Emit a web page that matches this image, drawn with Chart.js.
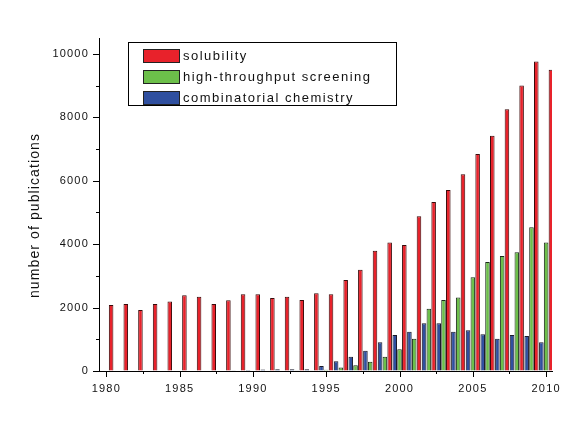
<!DOCTYPE html>
<html>
<head>
<meta charset="utf-8">
<script src="https://cdn.jsdelivr.net/npm/chart.js@4"></script>
<style>
html,body{margin:0;padding:0;background:#fff;}
#wrap{width:586px;height:425px;position:relative;}
</style>
</head>
<body>
<div id="wrap"><canvas id="c" width="586" height="425"></canvas></div>
<script>
const years = [1980,1981,1982,1983,1984,1985,1986,1987,1988,1989,1990,1991,1992,1993,1994,1995,1996,1997,1998,1999,2000,2001,2002,2003,2004,2005,2006,2007,2008,2009,2010];
const solubility = [2080,2110,1925,2110,2190,2390,2345,2110,2230,2420,2420,2300,2345,2240,2450,2420,2870,3190,3790,4050,3975,4880,5330,5710,6205,6845,7415,8255,9000,9760,9500];
const hts = [0,0,0,0,0,0,0,0,0,0,0,0,0,10,20,40,110,185,295,450,685,1020,1965,2240,2315,2955,3440,3630,3745,4535,4050];
const combchem = [0,0,0,0,0,0,0,0,0,10,30,50,55,55,55,160,305,450,640,905,1135,1240,1505,1505,1240,1285,1160,1020,1135,1105,905];
const seriesLabels = ['solubility','high-throughput screening','combinatorial chemistry'];
const yTicks = [0,2000,4000,6000,8000,10000];
const yMinorTicks = [1000,3000,5000,7000,9000];
const xTickLabels = [1980,1985,1990,1995,2000,2005,2010];
const yTitle = 'number of publications';

const COLORS = {sol:'#e8222b', hts:'#6cbf4a', comb:'#2f4f9f'};
const toXY = arr => arr.map((v,i)=>({x:years[i], y:v}));
const FONT = '"Liberation Sans", Arial, sans-serif';

const tickPlugin = {
  id:'ticks',
  beforeDraw(chart){ chart.ctx.letterSpacing = '1.2px'; },
  afterDraw(chart){
    const ctx = chart.ctx, ca = chart.chartArea;
    const xs = chart.scales.x, ys = chart.scales.y;
    ctx.save();
    ctx.strokeStyle = '#000'; ctx.lineWidth = 1;
    ctx.beginPath();
    xs.ticks.forEach(t=>{
      const px = Math.round(xs.getPixelForValue(t.value))+0.5;
      const len = xTickLabels.includes(t.value) ? 6 : 3;
      ctx.moveTo(px, ca.bottom); ctx.lineTo(px, ca.bottom+len);
    });
    ys.ticks.forEach(t=>{
      const py = Math.round(ys.getPixelForValue(t.value))+0.5;
      const len = yTicks.includes(t.value) ? 6 : 3;
      ctx.moveTo(ca.left, py); ctx.lineTo(ca.left-len, py);
    });
    ctx.stroke();
    // y axis title
    ctx.translate(ca.left - 63.5, (ca.top + ca.bottom)/2 + 11);
    ctx.rotate(-Math.PI/2);
    ctx.font = '14px ' + FONT;
    ctx.letterSpacing = '1.1px';
    ctx.fillStyle = '#111';
    ctx.textAlign = 'center';
    ctx.textBaseline = 'middle';
    ctx.fillText(yTitle, 0, 0);
    ctx.restore();
  }
};

const legendPlugin = {
  id:'boxLegend',
  afterDraw(chart){
    const ctx = chart.ctx, ca = chart.chartArea;
    const ds = chart.data.datasets.slice().reverse();
    const bx = ca.left + 29, by = ca.top + 4;
    ctx.save();
    ctx.fillStyle = '#fff';
    ctx.fillRect(bx+0.5, by+0.5, 268, 63);
    ctx.strokeStyle = '#000'; ctx.lineWidth = 1;
    ctx.strokeRect(bx+0.5, by+0.5, 268, 63);
    ctx.font = '13px ' + FONT;
    ctx.letterSpacing = '1.5px';
    ctx.textBaseline = 'middle';
    ctx.textAlign = 'left';
    ds.forEach((d,i)=>{
      const ry = by + 7 + i*21;
      ctx.fillStyle = d.backgroundColor;
      ctx.fillRect(bx+15.5, ry+0.5, 36, 13);
      ctx.strokeStyle = '#222';
      ctx.strokeRect(bx+15.5, ry+0.5, 36, 13);
      ctx.fillStyle = '#111';
      ctx.fillText(d.label, bx+55, ry+7);
    });
    ctx.restore();
  }
};

new Chart(document.getElementById('c'), {
  type:'bar',
  data:{
    datasets:[
      {label:seriesLabels[2], data:toXY(combchem), backgroundColor:COLORS.comb, borderColor:'#1a1a2a', borderWidth:1},
      {label:seriesLabels[1], data:toXY(hts), backgroundColor:COLORS.hts, borderColor:'#1a2a1a', borderWidth:1},
      {label:seriesLabels[0], data:toXY(solubility), backgroundColor:COLORS.sol, borderColor:'#3a0a0a', borderWidth:1}
    ]
  },
  options:{
    responsive:false,
    animation:false,
    devicePixelRatio:1,
    categoryPercentage:0.98,
    barPercentage:0.95,
    layout:{padding:{left:20, top:38, right:34, bottom:0}},
    plugins:{legend:{display:false}, tooltip:{enabled:false}},
    scales:{
      x:{
        type:'linear', min:1979.5, max:2010.4, offset:false,
        grid:{display:true, offset:false, drawOnChartArea:false, drawTicks:false},
        border:{display:true, color:'#000', width:1},
        ticks:{stepSize:2.5, includeBounds:false, maxTicksLimit:60, padding:11, color:'#111', maxRotation:0, autoSkip:false,
          font:{family:FONT, size:11},
          callback:v=> xTickLabels.includes(v) ? String(v) : ''},
        afterFit:s=>{ s.height = 54; }
      },
      y:{
        type:'linear', min:0, max:10500,
        grid:{display:true, drawOnChartArea:false, drawTicks:false},
        border:{display:true, color:'#000', width:1},
        ticks:{autoSkip:false, padding:10, color:'#111',
          font:{family:FONT, size:11},
          callback:v=> yTicks.includes(v) ? String(v) : ''},
        afterBuildTicks:s=>{
          s.ticks = yTicks.concat(yMinorTicks).sort((a,b)=>a-b).map(v=>({value:v}));
        },
        afterFit:s=>{ s.width = 79; }
      }
    }
  },
  plugins:[tickPlugin, legendPlugin]
});
</script>
</body>
</html>
